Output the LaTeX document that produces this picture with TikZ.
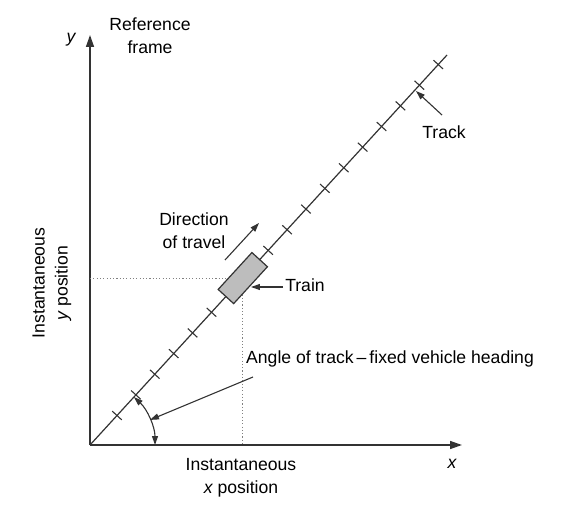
\documentclass[tikz,border=0pt]{standalone}
\usepackage{fontspec}
\setmainfont{Liberation Sans}
\usetikzlibrary{arrows.meta,calc}
\definecolor{ink}{HTML}{333333}
\definecolor{trainfill}{HTML}{BDBDBD}
\begin{document}
\begin{tikzpicture}[x=1pt,y=-1pt,
  font=\fontsize{17.6}{23}\selectfont,
  axis/.style={draw=ink,line width=1.5pt,-{Triangle[length=12pt,width=8pt]}},
  trackline/.style={draw=ink,line width=1.2pt},
  tickmark/.style={draw=ink,line width=1.1pt},
  dotline/.style={draw=gray,line width=1pt,dash pattern=on 1.1pt off 2.2pt},
  labarrow/.style={draw=ink,line width=1.1pt,-{Triangle[length=9pt,width=6pt]}},
  arcarrow/.style={draw=ink,line width=1.1pt,{Triangle[length=9pt,width=6pt]}-{Triangle[length=9pt,width=6pt]}},
  trainbox/.style={draw=ink,fill=trainfill,line width=1.2pt,minimum width=50pt,minimum height=21pt,inner sep=0pt},
  txt/.style={inner sep=2pt,align=center}]
\useasboundingbox (0,0) rectangle (562,505);
% axes
\coordinate (O) at (90,445);
\coordinate (Ytip) at (90,35);
\coordinate (Xtip) at (462,445);
\coordinate (T) at (447,55);
\draw[axis] (O) -- (Ytip);
\draw[axis] (O) -- (Xtip);
\node[txt] (ylab) at (71,40) {\itshape y};
\node[txt] (xlab) at (452,464) {\itshape x};
% track
\draw[trackline] (O) -- (T);
\foreach \k in {0,...,17}{
  \pgfmathsetmacro{\t}{0.0756+0.05294*\k}
  \draw[tickmark] ($(O)!\t!(T)$) +(137.53:6.5pt) -- +(-42.47:6.5pt);
}
% train and dotted projections
\coordinate (tc) at ($(O)!0.428!(T)$);
\draw[dotline] (Ytip |- tc) -- (tc);
\draw[dotline] (tc) -- (tc |- O);
\node[trainbox,rotate=47.53] (train) at (tc) {};
% labels
\node[txt] (ref) at (150,36) {Reference\\frame};
\node[txt] (track) at (444,132) {Track};
\coordinate (trackfrom) at (442,115);
\coordinate (trackpt) at (416,91);
\draw[labarrow] (trackfrom) -- (trackpt);
\node[txt] (dir) at (194,231) {Direction\\of travel};
\coordinate (dirA) at (225,260);
\coordinate (dirB) at (259,223);
\draw[labarrow] (dirA) -- (dirB);
\node[txt] (trainlab) at (305,285) {Train};
\draw[labarrow] ([yshift=-2pt]trainlab.west) -- ([yshift=-2pt]trainlab.west -| train.south);
\node[txt] (ypos) at (52,283) [rotate=90] {Instantaneous\\{\itshape y} position};
\node[txt] (xpos) at (241,478) {Instantaneous\\{\itshape x} position};
% angle
\draw[arcarrow] ($(O)+(47.53:65pt)$) arc[start angle=47.53,end angle=0,radius=65pt];
\node[txt,anchor=west] (ang) at (244,359) {Angle of track\,–\,fixed vehicle heading};
\coordinate (angfrom) at (253,377);
\coordinate (angpt) at ($(O)+(22.7:65pt)$);
\draw[labarrow] (angfrom) -- (angpt);
\end{tikzpicture}
\end{document}
